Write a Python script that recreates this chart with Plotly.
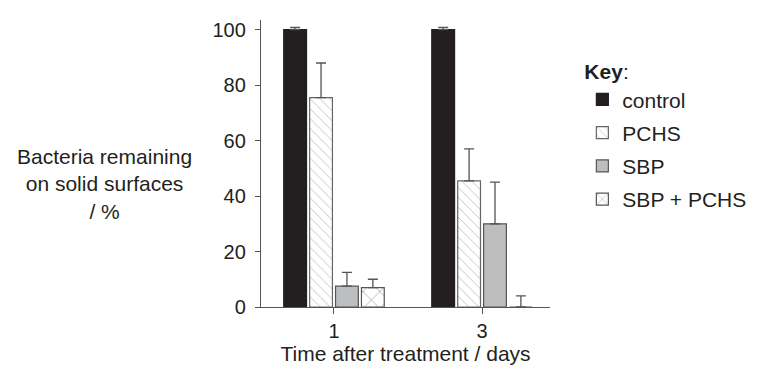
import plotly.graph_objects as go

days = ["1", "3"]
series = ["control", "PCHS", "SBP", "SBP + PCHS"]
values = {
    "control": [100, 100],
    "PCHS": [75.5, 45.5],
    "SBP": [7.5, 30],
    "SBP + PCHS": [7, 0],
}
errors_up = {
    "control": [0.8, 0.8],
    "PCHS": [12.5, 11.5],
    "SBP": [5, 15],
    "SBP + PCHS": [3, 4],
}
y_ticks = [0, 20, 40, 60, 80, 100]

styles = {
    "control": dict(color="#231f20", line=dict(color="#231f20", width=1.2)),
    "PCHS": dict(color="white", line=dict(color="#666", width=1.2),
                 pattern=dict(shape="\\", fgcolor="#777", bgcolor="white", size=7, solidity=0.12)),
    "SBP": dict(color="#bcbec0", line=dict(color="#555", width=1.2)),
    "SBP + PCHS": dict(color="white", line=dict(color="#555", width=1.2),
                       pattern=dict(shape="x", fgcolor="#444", bgcolor="white", size=12, solidity=0.12)),
}

fig = go.Figure()
for s in series:
    fig.add_trace(go.Bar(
        name=s, x=days, y=values[s], marker=styles[s], legendgroup=s,
        error_y=dict(type="data", symmetric=False, array=errors_up[s],
                     arrayminus=[0] * len(days), color="#555", thickness=1.3, width=5),
    ))

font_family = "Liberation Sans, Arial, sans-serif"
fig.update_layout(
    width=768, height=391,
    margin=dict(l=253, r=226, t=12, b=92, autoexpand=False),
    paper_bgcolor="white", plot_bgcolor="white",
    barmode="group", bargap=0.3, bargroupgap=0.12,
    font=dict(family=font_family, size=21, color="#231f20"),
    showlegend=True,
    legend=dict(
        title=dict(text="<b>Key</b>:", font=dict(size=21)),
        x=1.112, xanchor="left", y=0.889, yanchor="top",
        font=dict(size=21), tracegroupgap=3, itemwidth=30,
        bgcolor="rgba(0,0,0,0)",
    ),
    xaxis=dict(
        type="category", range=[-0.493, 1.459],
        showline=True, linecolor="#555", linewidth=1.3,
        ticks="outside", ticklen=6, tickcolor="#555",
        tickfont=dict(size=20),
        title=dict(text="Time after treatment / days", font=dict(size=21), standoff=4),
        showgrid=False, zeroline=False, automargin=False,
    ),
    yaxis=dict(
        range=[0, 103.5], tickvals=y_ticks,
        showline=True, linecolor="#555", linewidth=1.3,
        ticks="outside", ticklen=5, tickcolor="#555",
        tickfont=dict(size=20), ticklabelstandoff=5,
        showgrid=False, zeroline=False, automargin=False,
    ),
    annotations=[dict(
        text="Bacteria remaining<br>on solid surfaces<br>/ %",
        xref="paper", yref="paper", x=-0.54, y=0.4286,
        xanchor="center", yanchor="middle", showarrow=False,
        font=dict(size=21), align="center",
    )],
)

fig.write_html("out.html")
